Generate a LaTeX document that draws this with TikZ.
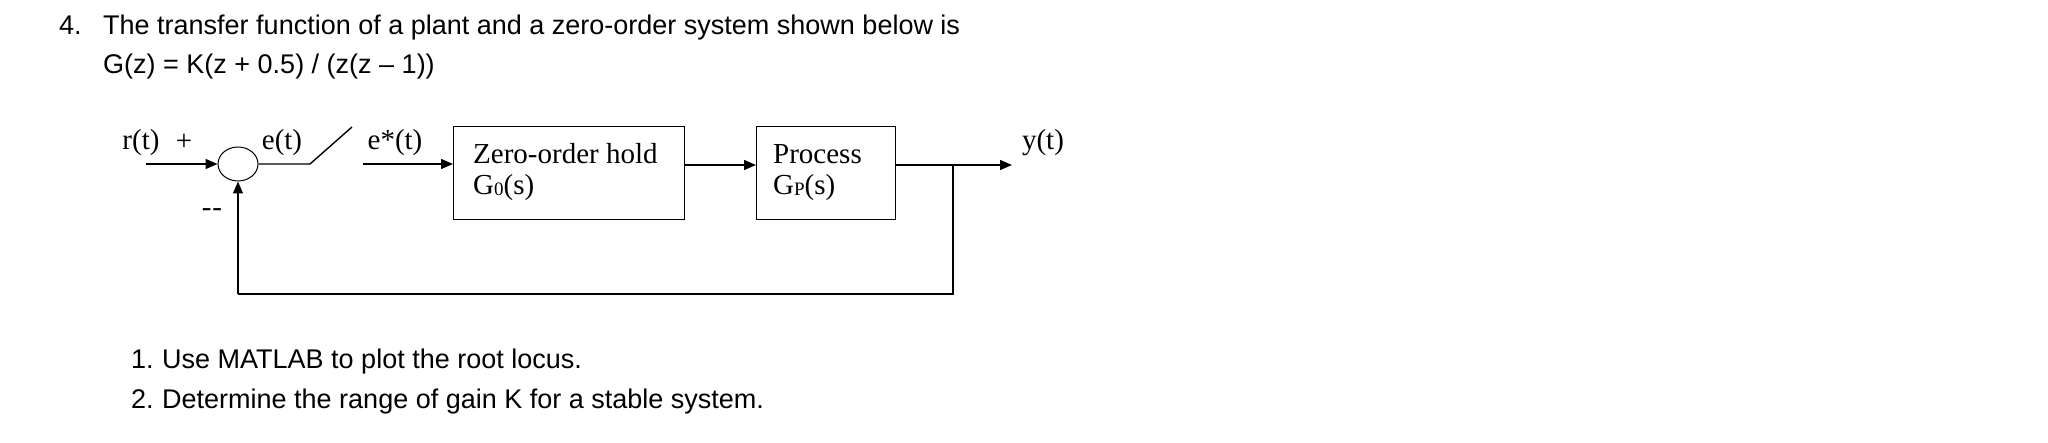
\documentclass[tikz,border=0pt]{standalone}
\usepackage{fontspec}
\usetikzlibrary{shapes.geometric,arrows.meta}
\setmainfont{Liberation Serif}
\newfontfamily\arial{Liberation Sans}
\begin{document}
\begin{tikzpicture}[x=1pt,y=-1pt,
  txt/.style={font=\arial\fontsize{27}{32}\selectfont,anchor=base west,inner sep=0},
  lab/.style={font=\fontsize{29}{34}\selectfont,inner sep=0},
  blk/.style={draw,line width=1.2pt,minimum width=231pt,minimum height=93pt},
  ln/.style={line width=1.4pt},
  arr/.style={ln,-{Triangle[length=12pt,width=10pt]}}]
\useasboundingbox (0,0) rectangle (2048,443);
\node[txt] (n4) at (59,35) {4.};
\node[txt] (t1) at (103,35) {The transfer function of a plant and a zero-order system shown below is};
\node[txt] (t2) at (103,74) {G(z) = K(z + 0.5) / (z(z – 1))};
\node[txt] (l1) at (131,369) {1.};
\node[txt] (l1t) at (162,369) {Use MATLAB to plot the root locus.};
\node[txt] (l2) at (131,408) {2.};
\node[txt] (l2t) at (162,408) {Determine the range of gain K for a stable system.};
% diagram
\node[draw,ellipse,line width=1pt,minimum width=40pt,minimum height=34pt,inner sep=0] (sum) at (238,164) {};
\coordinate (rin) at (146,164);
\coordinate (sw1) at (310,164);
\coordinate (sw2) at (352,127);
\coordinate (es) at (363,164);
\node[blk,anchor=north west,minimum width=231pt] (zoh) at (453,126) {};
\node[lab,anchor=west] at (473,154) {Zero-order hold};
\node[lab,anchor=west] at (473,188) {G\raisebox{-1pt}{\fontsize{19}{22}\selectfont 0}(s)};
\node[blk,anchor=north west,minimum width=139pt] (pr) at (756,126) {};
\node[lab,anchor=west] at (773,154) {Process};
\node[lab,anchor=west] at (773,188) {G\raisebox{-1pt}{\fontsize{19}{22}\selectfont P}(s)};
\coordinate (tap) at (953,165);
\coordinate (yout) at (1012,165);
\coordinate (fb) at (238,294);
\coordinate (fbr) at (953,294);
\draw[arr] (rin) -- (sum.west);
\draw[ln] (sum.east) -- (sw1) -- (sw2);
\draw[arr] (es) -- (zoh.west |- es);
\draw[arr] (zoh.east |- tap) -- (pr.west |- tap);
\draw[arr] (pr.east |- tap) -- (yout);
\draw[ln] (tap) -- (fbr) -- (fb);
\draw[arr] (fb) -- (sum.south);
\node[lab] at (141,143) {r(t)};
\node[lab] at (184,142) {+};
\node[lab] at (282,143) {e(t)};
\node[lab] at (395,143) {e*(t)};
\node[lab] at (212,213) {-\kern1pt-};
\node[lab] at (1043,143) {y(t)};
\end{tikzpicture}
\end{document}
